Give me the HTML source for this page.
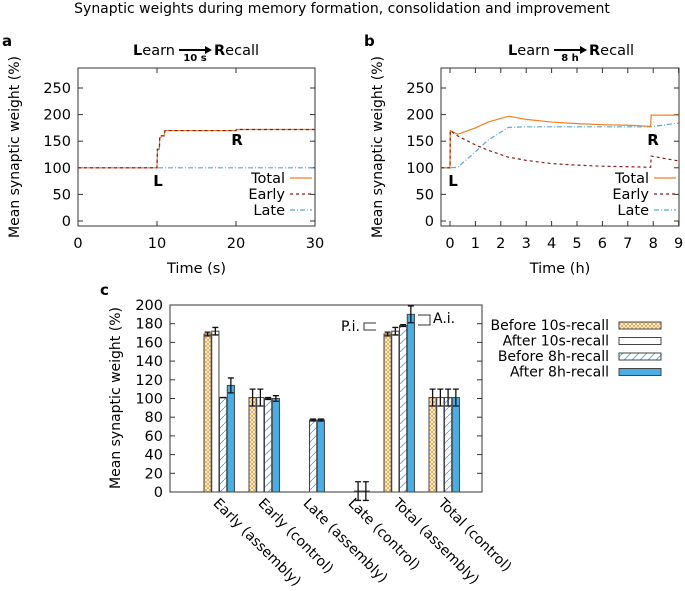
<!DOCTYPE html>
<html><head><meta charset="utf-8"><style>
body{margin:0;background:#fff}
svg{font-family:"DejaVu Sans","Liberation Sans",sans-serif}
</style></head><body>
<svg id="s" width="685" height="586" viewBox="0 0 685 586">
<defs>
<pattern id="cross" width="4" height="4" patternUnits="userSpaceOnUse"><rect width="4" height="4" fill="#fff"/><path d="M0 0L4 4M4 0L0 4" stroke="#f0a030" stroke-width="0.8"/></pattern>
<pattern id="hatch" width="8" height="8" patternUnits="userSpaceOnUse"><rect width="8" height="8" fill="#fff"/><path d="M0 8L8 0" stroke="#4aa8e0" stroke-width="0.9"/></pattern>
</defs>
<text x="342" y="13" font-size="14" text-anchor="middle">Synaptic weights during memory formation, consolidation and improvement</text>
<g id="g"></g>
</svg>
<script>
// Panel a data
const aTime=[0,10,10.05,10.3,10.35,10.5,10.55,10.9,11,20,20.05,30];
const aTotal=[100,100,135,135,157,157,160,160,170,170,172,172];
const aEarly=[100,100,135,135,157,157,160,160,170,170,172,172];
const aLateT=[0,30];
const aLate=[100,100];
// Panel b data
const bTime=[-0.35,0,0.01,0.3,1,1.5,2.3,3,4,5,6,7,7.9,7.92,8.5,9];
const bTotal=[100,100,170,163,175,186,197,191,186,183,181,180,178,199,199,199];
const bEarly=[100,100,170,160,143,133,120,114,108,105,103,102,101,122,117,113];
const bLate=[100,100,100,101,130,152,176,177,177,177,177,177,177,177,181,184];
// Panel c data
const cCats=["Early (assembly)","Early (control)","Late (assembly)","Late (control)","Total (assembly)","Total (control)"];
const cSeries=["Before 10s-recall","After 10s-recall","Before 8h-recall","After 8h-recall"];
const cVals=[[169,101,0,0,169,101],[172,101,0,0,172,101],[101,100,77,1,178,101],[114,100,77,1,190,101]];
const cErr=[[2,9,0,0,2,9],[4,9,0,0,4,9],[0,1,1,10,1,9],[8,3,1,10,9,9]];
const yTicksA=[0,50,100,150,200,250];
const yTicksC=[0,20,40,60,80,100,120,140,160,180,200];

const NS="http://www.w3.org/2000/svg",G=document.getElementById('g');
function el(t,a,p){const e=document.createElementNS(NS,t);for(const k in a)e.setAttribute(k,a[k]);(p||G).appendChild(e);return e;}
function txt(x,y,s,fs,anchor,extra){const e=el('text',Object.assign({x:x,y:y,'font-size':fs,'text-anchor':anchor||'middle'},extra||{}));e.textContent=s;return e;}

const yA=v=>221-v*0.532;
function lineChart(L,R,xs,xTicks,xLab,data,panel,letter,lx,mid,arrowLab,Lpt,Rpt){
  const g=el('g',{});
  
  
  const xsc=xs;
  const fr=el('rect',{x:L,y:68,width:R-L,height:158,fill:'none',stroke:'#333','stroke-width':1},g);
  
  yTicksA.forEach(v=>{const y=yA(v);el('line',{x1:L,x2:L+5,y1:y,y2:y,stroke:'#333'},g);el('line',{x1:R,x2:R-5,y1:y,y2:y,stroke:'#333'},g);
    const t=txt(L-7,y+5,v,14.5,'end');});
  xTicks.forEach(v=>{const x=xsc(v);el('line',{x1:x,x2:x,y1:226,y2:221,stroke:'#333'},g);el('line',{x1:x,x2:x,y1:68,y2:73,stroke:'#333'},g);
    const t=txt(x,248,v,14.5);});
  const xl=txt((L+R)/2,273,xLab,14.5);
  const yl=txt(0,0,'Mean synaptic weight (%)',14,'middle',{transform:'translate('+(L-59)+',147) rotate(-90)'});
  
  const lt=txt(lx,46,letter,15,'start',{'font-weight':'bold'});
  const tt=el('text',{x:mid-20,y:55,'font-size':14.5,'text-anchor':'end'},g);tt.innerHTML='<tspan font-weight="bold">L</tspan>earn';
  
  el('line',{x1:mid-16,x2:mid+12,y1:50,y2:50,stroke:'#000','stroke-width':2},g);
  el('path',{d:`M${mid+10} 46L${mid+17} 50L${mid+10} 54Z`,fill:'#000'},g);
  txt(mid,61,arrowLab,10,'middle',{'font-weight':'bold'});
  const tr=el('text',{x:mid+19,y:55,'font-size':14.5,'text-anchor':'start'},g);tr.innerHTML='<tspan font-weight="bold">R</tspan>ecall';
  
  data.forEach(d=>{const p=el('polyline',{points:d.x.map((t,i)=>xsc(t)+','+yA(d.y[i])).join(' '),fill:'none',stroke:d.c,'stroke-width':1.2,'stroke-dasharray':d.dash||''},g);
    });
  txt(Lpt[0],Lpt[1],'L',15,'middle',{'font-weight':'bold'});
  txt(Rpt[0],Rpt[1],'R',15,'middle',{'font-weight':'bold'});
  [['Total','#f08020',''],['Early','#8b1a1a','3,3'],['Late','#5aa8d8','5,2,1,2']].forEach((l,i)=>{
    const y=178+i*16;const t=txt(R-30,y+5,l[0],14.5,'end');
    el('line',{x1:R-25,x2:R-3,y1:y,y2:y,stroke:l[1],'stroke-width':1.2,'stroke-dasharray':l[2]},g);});
}
const xa=t=>78+t*(315-78)/30;
lineChart(78,315,xa,[0,10,20,30],'Time (s)',[
 {x:aLateT,y:aLate,c:'#5aa8d8',dash:'5,2,1,2',n:'late'},
 {x:aTime,y:aTotal,c:'#f08020',n:'total'},
 {x:aTime,y:aEarly,c:'#8b1a1a',dash:'3,3',n:'early'}],'a','a',2,195,'10 s',[158,186],[237,145]);
const xb=t=>450+t*25.4;
lineChart(441,679,xb,[0,1,2,3,4,5,6,7,8,9],'Time (h)',[
 {x:bTime,y:bLate,c:'#5aa8d8',dash:'5,2,1,2',n:'late'},
 {x:bTime,y:bTotal,c:'#f08020',n:'total'},
 {x:bTime,y:bEarly,c:'#8b1a1a',dash:'3,3',n:'early'}],'b','b',364,570,'8 h',[453,186],[653,145]);

// Panel c
const yC=v=>492-v*0.935;
const gc=el('g',{});


const fills=['url(#cross)','#fff','url(#hatch)','#4aaee3'];
const gx=i=>219.5+i*45;
const fc=el('rect',{x:170,y:305,width:312,height:187,fill:'none',stroke:'#333'},gc);

yTicksC.forEach(v=>{const y=yC(v);el('line',{x1:170,x2:175,y1:y,y2:y,stroke:'#333'},gc);el('line',{x1:482,x2:477,y1:y,y2:y,stroke:'#333'},gc);
  const t=txt(163,y+5,v,14.5,'end');});
cCats.forEach((c,i)=>{
  cSeries.forEach((s,j)=>{const v=cVals[j][i],x=gx(i)-15.5+j*7.75;
    const b=el('rect',{x:x,y:yC(v),width:7.2,height:492-yC(v),fill:fills[j],stroke:'#444','stroke-width':1},gc);
    
    const e=cErr[j][i];if(v>0||e>1){const cx=x+3.6;el('path',{d:`M${cx} ${yC(v-e)}V${yC(v+e)}M${cx-3} ${yC(v-e)}h6M${cx-3} ${yC(v+e)}h6`,stroke:'#111','stroke-width':1.3,fill:'none'},gc);}
  });
  const t=txt(0,0,c,14,'start',{transform:`translate(${gx(i)-7},504) rotate(45)`});
  
});
txt(100,295,'c',15,'start',{'font-weight':'bold'});
const cyl=txt(0,0,'Mean synaptic weight (%)',14,'middle',{transform:'translate(120,398) rotate(-90)'});

txt(360,331,'P.i.',14,'end');
el('path',{d:'M376 323h-12v7h12',fill:'none',stroke:'#333'},gc);
txt(433,323,'A.i.',14,'start');
el('path',{d:'M418 315h12v10h-12',fill:'none',stroke:'#333'},gc);
cSeries.forEach((s,j)=>{const y=325+j*15.5;
  const t=txt(609,y+5,s,14,'end');
  el('rect',{x:619,y:y-3,width:42,height:7,fill:fills[j],stroke:'#444'},gc);});
</script>
</body></html>
